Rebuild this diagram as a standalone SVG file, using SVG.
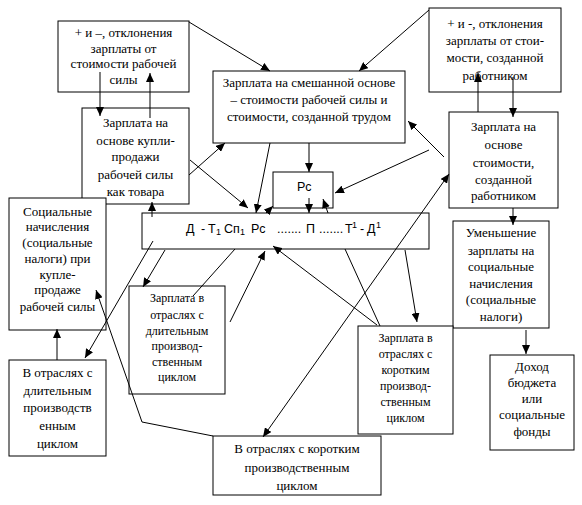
<svg xmlns="http://www.w3.org/2000/svg" width="582" height="505" viewBox="0 0 582 505">
<defs>
<marker id="ah" markerUnits="userSpaceOnUse" markerWidth="9" markerHeight="8" refX="9" refY="4" orient="auto-start-reverse">
<path d="M0,0 L9,4 L0,8 z" fill="#000"/>
</marker>
<style>
.box{fill:#fff;stroke:#000;stroke-width:1}
.t{font-family:'Liberation Serif',Tinos,'Noto Serif','DejaVu Serif',FreeSerif,'Times New Roman',Times,serif;font-size:13px;fill:#000;text-anchor:middle}
.g{font-size:12px}
.s{font-family:'Liberation Sans',Arial,sans-serif;font-size:12.5px;fill:#000}
.c{fill:none;stroke:#000;stroke-width:1}
.a{marker-end:url(#ah)}
</style>
</defs>
<rect width="582" height="505" fill="#fff"/>
<g id="nodes">
<g id="nA"><rect class="box" x="58" y="21" width="131" height="71"/>
<text class="t"><tspan x="123.5" y="37">+ и –, отклонения</tspan><tspan x="123.5" y="53">зарплаты от</tspan><tspan x="123.5" y="68">стоимости рабочей</tspan><tspan x="123.5" y="84">силы</tspan></text></g>
<g id="nB"><rect class="box" x="82" y="108" width="107" height="96"/>
<text class="t"><tspan x="135.5" y="127">Зарплата на</tspan><tspan x="135.5" y="145">основе купли-</tspan><tspan x="135.5" y="161">продажи</tspan><tspan x="135.5" y="179">рабочей силы</tspan><tspan x="135.5" y="196">как товара</tspan></text></g>
<g id="nC"><rect class="box" x="213" y="71" width="192" height="72"/>
<text class="t"><tspan x="309" y="87">Зарплата на смешанной основе</tspan><tspan x="309" y="104">– стоимости рабочей силы и</tspan><tspan x="309" y="121">стоимости, созданной трудом</tspan></text></g>
<g id="nD"><rect class="box" x="429" y="8" width="132" height="84"/>
<text class="t"><tspan x="495" y="28">+ и -, отклонения</tspan><tspan x="495" y="45">зарплаты от стои-</tspan><tspan x="495" y="62">мости, созданной</tspan><tspan x="495" y="80">работником</tspan></text></g>
<g id="nE"><rect class="box" x="449" y="112" width="109" height="96"/>
<text class="t"><tspan x="503.5" y="131">Зарплата на</tspan><tspan x="503.5" y="149">основе</tspan><tspan x="503.5" y="167">стоимости,</tspan><tspan x="503.5" y="184">созданной</tspan><tspan x="503.5" y="200">работником</tspan></text></g>
<g id="nPc"><rect class="box" x="273" y="172" width="60" height="36"/>
<text class="s" x="297" y="191">Рс</text></g>
<g id="nBar"><rect class="box" x="142" y="213" width="287" height="36"/>
<text class="s" y="233"><tspan x="186">Д</tspan><tspan x="201">-</tspan><tspan x="208">Т</tspan><tspan x="216" dy="1.5" font-size="9">1</tspan><tspan x="224" dy="-1.5">Сп</tspan><tspan x="240" dy="1.5" font-size="9">1</tspan><tspan x="251" dy="-1.5">Рс</tspan><tspan x="277">.......</tspan><tspan x="306">П</tspan><tspan x="319">.......</tspan><tspan x="345">Т</tspan><tspan x="352" dy="-5" font-size="9">1</tspan><tspan x="360" dy="5">-</tspan><tspan x="367">Д</tspan><tspan x="376" dy="-5" font-size="9">1</tspan></text></g>
<g id="nF"><rect class="box" x="9" y="198" width="97" height="132"/>
<text class="t"><tspan x="57.5" y="216">Социальные</tspan><tspan x="57.5" y="231">начисления</tspan><tspan x="57.5" y="247">(социальные</tspan><tspan x="57.5" y="263">налоги) при</tspan><tspan x="57.5" y="279">купле-</tspan><tspan x="57.5" y="294">продаже</tspan><tspan x="57.5" y="311">рабочей силы</tspan></text></g>
<g id="nG"><rect class="box" x="129" y="286" width="96" height="108"/>
<text class="t g"><tspan x="177" y="302">Зарплата в</tspan><tspan x="177" y="319">отраслях с</tspan><tspan x="177" y="335">длительным</tspan><tspan x="177" y="350">производ-</tspan><tspan x="177" y="366">ственным</tspan><tspan x="177" y="381">циклом</tspan></text></g>
<g id="nH"><rect class="box" x="453" y="221" width="96" height="107"/>
<text class="t"><tspan x="501" y="237">Уменьшение</tspan><tspan x="501" y="255">зарплаты на</tspan><tspan x="501" y="271">социальные</tspan><tspan x="501" y="288">начисления</tspan><tspan x="501" y="304">(социальные</tspan><tspan x="501" y="321">налоги)</tspan></text></g>
<g id="nI"><rect class="box" x="358" y="326" width="95" height="108"/>
<text class="t g"><tspan x="405.5" y="342">Зарплата в</tspan><tspan x="405.5" y="358">отраслях с</tspan><tspan x="405.5" y="374">коротким</tspan><tspan x="405.5" y="390">производ-</tspan><tspan x="405.5" y="406">ственным</tspan><tspan x="405.5" y="422">циклом</tspan></text></g>
<g id="nJ"><rect class="box" x="490" y="355" width="84" height="95"/>
<text class="t"><tspan x="532" y="371">Доход</tspan><tspan x="532" y="387">бюджета</tspan><tspan x="532" y="403">или</tspan><tspan x="532" y="419">социальные</tspan><tspan x="532" y="436">фонды</tspan></text></g>
<g id="nK"><rect class="box" x="9" y="360" width="97" height="96"/>
<text class="t"><tspan x="57.5" y="377">В отраслях с</tspan><tspan x="57.5" y="395">длительным</tspan><tspan x="57.5" y="412">производств</tspan><tspan x="57.5" y="430">енным</tspan><tspan x="57.5" y="448">циклом</tspan></text></g>
<g id="nL"><rect class="box" x="213" y="436" width="168" height="59"/>
<text class="t"><tspan x="297" y="453">В отраслях с коротким</tspan><tspan x="297" y="472">производственным</tspan><tspan x="297" y="490">циклом</tspan></text></g>
</g>
<g id="connectors">
<path class="c a" d="M189,22 L270,71"/>
<path class="c a" d="M429,10 L359,71"/>
<path class="c a" d="M100,72 L100,116"/>
<path class="c a" d="M150,118 L150,73"/>
<path class="c a" d="M189,175 L225,143"/>
<path class="c a" d="M190,160 L248,208"/>
<path class="c a" d="M270,143 L256,213"/>
<path class="c a" d="M309,143 L309,172"/>
<path class="c a" d="M309,198 L309,213"/>
<path class="c a" d="M193,296 L235,249 M266,213 L273,206"/>
<path class="c a" d="M380,326 L345,249 M328,213 L323,199"/>
<path class="c a" d="M429,150 L335,193"/>
<path class="c a" d="M444,157 L408,121"/>
<path class="c a" d="M478,112 L478,73"/>
<path class="c a" d="M513,77 L513,117"/>
<path class="c a" d="M513,208 L513,225"/>
<path class="c a" d="M526,330 L526,354"/>
<path class="c a" d="M405,250 L417,322"/>
<path class="c a" d="M377,325 L273,246"/>
<path class="c a" d="M230,322 L265,251"/>
<path class="c a" d="M153,241 L85,358"/>
<path class="c a" d="M165,250 L143,287"/>
<path class="c a" d="M57,360 L57,329"/>
<path class="c a" d="M152,217 L152,202"/>
<path class="c a" d="M213,436 L142,422 L96,290"/>
<path class="c a" d="M263,437 L449,174" style="marker-start:url(#ah)"/>
</g>
</svg>
